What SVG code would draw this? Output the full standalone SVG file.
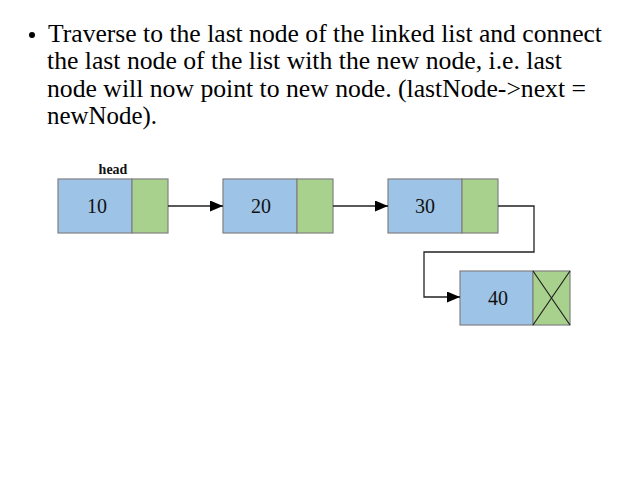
<svg xmlns="http://www.w3.org/2000/svg" width="638" height="478" viewBox="0 0 638 478">
<style>
.t{font-family:"Liberation Serif","Times New Roman",serif;font-size:25px;fill:#000}
.v{font-family:"Liberation Serif","Times New Roman",serif;font-size:20px;fill:#111;text-anchor:middle}
.h{font-family:"Liberation Serif","Times New Roman",serif;font-size:14px;font-weight:bold;fill:#111;text-anchor:middle}
.d{fill:#9DC3E6;stroke:#808080;stroke-width:1.2}
.n{fill:#A9D18E;stroke:#808080;stroke-width:1.2}
.c{fill:none;stroke:#222;stroke-width:1.3}
</style>
<defs>
<marker id="ah" markerWidth="13" markerHeight="11" refX="13" refY="5.5" orient="auto" markerUnits="userSpaceOnUse">
<path d="M0,0 L13,5.5 L0,11 Z" fill="#000"/>
</marker>
</defs>
<rect width="638" height="478" fill="#fff"/>
<g id="text">
<circle cx="32" cy="35" r="3" fill="#000"/>
<text class="t" x="48" y="42" textLength="554" lengthAdjust="spacingAndGlyphs">Traverse to the last node of the linked list and connect</text>
<text class="t" x="47" y="69" textLength="515" lengthAdjust="spacingAndGlyphs">the last node of the list with the new node, i.e. last</text>
<text class="t" x="47" y="97" textLength="539" lengthAdjust="spacingAndGlyphs">node will now point to new node. (lastNode-&gt;next =</text>
<text class="t" x="47" y="124" textLength="110" lengthAdjust="spacingAndGlyphs">newNode).</text>
</g>
<g id="node10">
<text class="h" x="113" y="174">head</text>
<rect class="d" x="58" y="179" width="74" height="54"/>
<rect class="n" x="132" y="179" width="36" height="54"/>
<text class="v" x="97" y="213">10</text>
</g>
<g id="node20">
<rect class="d" x="223" y="179" width="74" height="54"/>
<rect class="n" x="297" y="179" width="36" height="54"/>
<text class="v" x="261" y="213">20</text>
</g>
<g id="node30">
<rect class="d" x="388" y="179" width="74" height="54"/>
<rect class="n" x="462" y="179" width="36" height="54"/>
<text class="v" x="425" y="213">30</text>
</g>
<g id="node40">
<rect class="d" x="460" y="271" width="73" height="54"/>
<rect class="n" x="533" y="271" width="37" height="54"/>
<path d="M533,271 L570,325 M570,271 L533,325" stroke="#222" stroke-width="1.2" fill="none"/>
<text class="v" x="498" y="305">40</text>
</g>
<g id="connectors">
<path class="c" d="M168,206 H223" marker-end="url(#ah)"/>
<path class="c" d="M333,206 H388" marker-end="url(#ah)"/>
<path class="c" d="M498,206 H534 V252 H424 V297 H460" marker-end="url(#ah)"/>
</g>
</svg>
